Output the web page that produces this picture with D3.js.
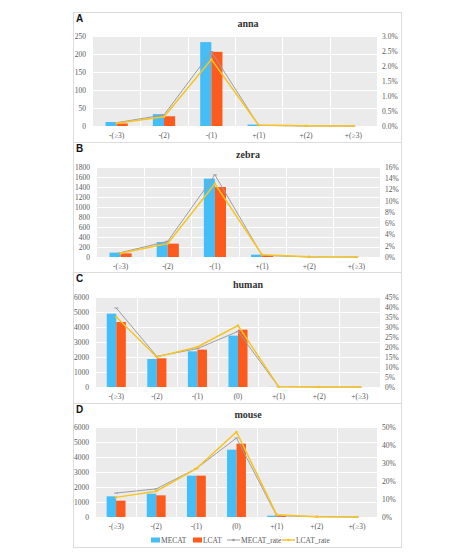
<!DOCTYPE html>
<html>
<head>
<meta charset="utf-8">
<script src="https://cdn.jsdelivr.net/npm/d3@7"></script>
<style>
  body { margin: 0; background: #fff; }
  svg { display: block; }
</style>
</head>
<body>
<div id="chart"></div>
<script>
// categories
const cats6 = ["-(≥3)", "-(2)", "-(1)", "+(1)", "+(2)", "+(≥3)"];
const cats7 = ["-(≥3)", "-(2)", "-(1)", "(0)", "+(1)", "+(2)", "+(≥3)"];

// anna
const annaMecat     = [11, 33, 233, 4, 0, 0];
const annaLcat      = [7, 27, 206, 2, 0, 0];
const annaMecatRate = [0.11, 0.37, 2.48, 0.02, 0, 0];
const annaLcatRate  = [0.09, 0.31, 2.22, 0.03, 0.01, 0];

// zebra
const zebraMecat     = [87, 300, 1567, 47, 0, 0];
const zebraLcat      = [73, 267, 1400, 33, 0, 0];
const zebraMecatRate = [0.77, 2.8, 14.6, 0.3, 0, 0];
const zebraLcatRate  = [0.65, 2.4, 13.0, 0.4, 0.05, 0];

// human
const humanMecat     = [4889, 1867, 2378, 3422, 10, 0, 0];
const humanLcat      = [4333, 1911, 2489, 3822, 10, 0, 0];
const humanMecatRate = [39.5, 15.3, 19.2, 27.8, 0.1, 0, 0];
const humanLcatRate  = [35.0, 15.0, 20.0, 30.7, 0.2, 0, 0];

// mouse
const mouseMecat     = [1378, 1556, 2756, 4489, 89, 0, 0];
const mouseLcat      = [1089, 1444, 2756, 4889, 67, 0, 0];
const mouseMecatRate = [13.3, 15.6, 26.9, 43.9, 0.7, 0.2, 0];
const mouseLcatRate  = [10.9, 14.3, 26.9, 47.2, 1.3, 0.2, 0];

const legendLabels = ["MECAT", "LCAT", "MECAT_rate", "LCAT_rate"];

const blue = "#45bdf6", orange = "#fd5a1e", gray = "#9c9ca8", yellow = "#f7c325";
const serif = "Liberation Serif, 'Times New Roman', serif";

const w = 474, h = 555;

const svg = d3.select("#chart").append("svg")
  .attr("width", w).attr("height", h);

const panels = [
  {letter: "A", title: "anna", cats: cats6, mecat: annaMecat, lcat: annaLcat,
   mRate: annaMecatRate, lRate: annaLcatRate, yMax: 250, yStep: 50, rMax: 3, rStep: 0.5, rDec: 1,
   top: 12, bottom: 142, px0: 93, px1: 377, py0: 36, py1: 126},
  {letter: "B", title: "zebra", cats: cats6, mecat: zebraMecat, lcat: zebraLcat,
   mRate: zebraMecatRate, lRate: zebraLcatRate, yMax: 1800, yStep: 200, rMax: 16, rStep: 2, rDec: 0,
   top: 142, bottom: 272, px0: 97, px1: 380, py0: 167, py1: 257},
  {letter: "C", title: "human", cats: cats7, mecat: humanMecat, lcat: humanLcat,
   mRate: humanMecatRate, lRate: humanLcatRate, yMax: 6000, yStep: 1000, rMax: 45, rStep: 5, rDec: 0,
   top: 272, bottom: 403, px0: 96, px1: 380, py0: 297, py1: 387},
  {letter: "D", title: "mouse", cats: cats7, mecat: mouseMecat, lcat: mouseLcat,
   mRate: mouseMecatRate, lRate: mouseLcatRate, yMax: 6000, yStep: 1000, rMax: 50, rStep: 10, rDec: 0,
   top: 403, bottom: 547, px0: 96, px1: 377, py0: 427, py1: 517}
];

panels.forEach(p => drawPanel(p));

function styleAxis(a) {
  a.select(".domain").remove();
  a.attr("font-family", serif).attr("font-size", 7.5);
  a.selectAll("text").attr("fill", "#595959");
}

function drawPanel(p) {
  const g = svg.append("g");

  // frame
  g.append("rect")
    .attr("x", 73.5).attr("y", p.top + 0.5)
    .attr("width", 328).attr("height", p.bottom - p.top)
    .attr("fill", "none").attr("stroke", "#dcdcdc").attr("stroke-width", 1);

  g.append("text")
    .attr("x", 76).attr("y", p.top + 10)
    .attr("font-family", "Liberation Sans, Arial, sans-serif")
    .attr("font-weight", "bold").attr("font-size", 10)
    .attr("fill", "#111")
    .text(p.letter);

  g.append("text")
    .attr("x", 248).attr("y", p.py0 - 9)
    .attr("text-anchor", "middle")
    .attr("font-family", serif)
    .attr("font-weight", "bold").attr("font-size", 10)
    .attr("fill", "#333")
    .text(p.title);

  const x = d3.scaleBand().domain(p.cats).range([p.px0, p.px1]).padding(0);
  const y = d3.scaleLinear().domain([0, p.yMax]).range([p.py1, p.py0]);
  const yr = d3.scaleLinear().domain([0, p.rMax]).range([p.py1, p.py0]);

  // plot background
  g.append("rect")
    .attr("x", p.px0).attr("y", p.py0)
    .attr("width", p.px1 - p.px0).attr("height", p.py1 - p.py0)
    .attr("fill", "#ebebeb");

  // horizontal grid
  const yTicks = d3.range(0, p.yMax + p.yStep / 2, p.yStep);
  g.selectAll(".hgrid").data(yTicks).enter().append("line")
    .attr("x1", p.px0).attr("x2", p.px1)
    .attr("y1", d => Math.round(y(d)) + 0.5).attr("y2", d => Math.round(y(d)) + 0.5)
    .attr("stroke", "#fff").attr("stroke-width", 1);

  // vertical grid at category boundaries
  g.selectAll(".vgrid").data(p.cats.slice(1)).enter().append("line")
    .attr("x1", d => Math.round(x(d)) + 0.5).attr("x2", d => Math.round(x(d)) + 0.5)
    .attr("y1", p.py0).attr("y2", p.py1)
    .attr("stroke", "#fff").attr("stroke-width", 1);

  const bw = x.bandwidth() * 0.235;

  g.selectAll(".bm").data(p.mecat).enter().append("rect")
    .attr("x", (d, i) => x(p.cats[i]) + x.bandwidth() / 2 - bw)
    .attr("y", d => y(d))
    .attr("width", bw).attr("height", d => y(0) - y(d))
    .attr("fill", blue);

  g.selectAll(".bl").data(p.lcat).enter().append("rect")
    .attr("x", (d, i) => x(p.cats[i]) + x.bandwidth() / 2)
    .attr("y", d => y(d))
    .attr("width", bw).attr("height", d => y(0) - y(d))
    .attr("fill", orange);

  const cx = (d, i) => x(p.cats[i]) + x.bandwidth() / 2;

  const line = d3.line().x(cx).y(d => yr(d));

  g.append("path").datum(p.mRate)
    .attr("d", line)
    .attr("fill", "none").attr("stroke", gray).attr("stroke-width", 1);
  g.selectAll(".mm").data(p.mRate).enter().append("line")
    .attr("x1", (d, i) => cx(d, i) - 2).attr("x2", (d, i) => cx(d, i) + 2)
    .attr("y1", d => yr(d)).attr("y2", d => yr(d))
    .attr("stroke", gray).attr("stroke-width", 1);

  g.append("path").datum(p.lRate)
    .attr("d", line)
    .attr("fill", "none").attr("stroke", yellow).attr("stroke-width", 1.5);
  g.selectAll(".lm").data(p.lRate).enter().append("circle")
    .attr("cx", cx).attr("cy", d => yr(d)).attr("r", 1.3)
    .attr("fill", yellow);

  // axes
  const left = g.append("g")
    .attr("transform", "translate(" + p.px0 + ",0)")
    .call(d3.axisLeft(y).tickValues(yTicks).tickSize(0).tickPadding(7)
      .tickFormat(d3.format("d")));
  styleAxis(left);

  const rTicks = d3.range(0, p.rMax + p.rStep / 2, p.rStep);
  const right = g.append("g")
    .attr("transform", "translate(" + p.px1 + ",0)")
    .call(d3.axisRight(yr).tickValues(rTicks).tickSize(0).tickPadding(5)
      .tickFormat(d => d.toFixed(p.rDec) + "%"));
  styleAxis(right);

  const bottom = g.append("g")
    .attr("transform", "translate(0," + p.py1 + ")")
    .call(d3.axisBottom(x).tickSize(0).tickPadding(7));
  styleAxis(bottom);
}

// legend
const legend = svg.append("g")
  .attr("font-family", serif)
  .attr("font-size", 7.5).attr("fill", "#595959");
const legItems = [
  {x: 151, type: "rect", color: blue},
  {x: 193, type: "rect", color: orange},
  {x: 227, type: "line", color: gray},
  {x: 282, type: "line", color: yellow}
];
const ly = 540;
legItems.forEach((it, i) => {
  if (it.type === "rect") {
    legend.append("rect").attr("x", it.x).attr("y", ly - 2.5)
      .attr("width", 9).attr("height", 5).attr("fill", it.color);
    legend.append("text").attr("x", it.x + 10).attr("y", ly + 2.5).text(legendLabels[i]);
  } else {
    legend.append("line").attr("x1", it.x).attr("x2", it.x + 13)
      .attr("y1", ly).attr("y2", ly)
      .attr("stroke", it.color).attr("stroke-width", i === 3 ? 1.5 : 1);
    legend.append("circle").attr("cx", it.x + 6.5).attr("cy", ly).attr("r", 1.3).attr("fill", it.color);
    legend.append("text").attr("x", it.x + 14).attr("y", ly + 2.5).text(legendLabels[i]);
  }
});
</script>
</body>
</html>
